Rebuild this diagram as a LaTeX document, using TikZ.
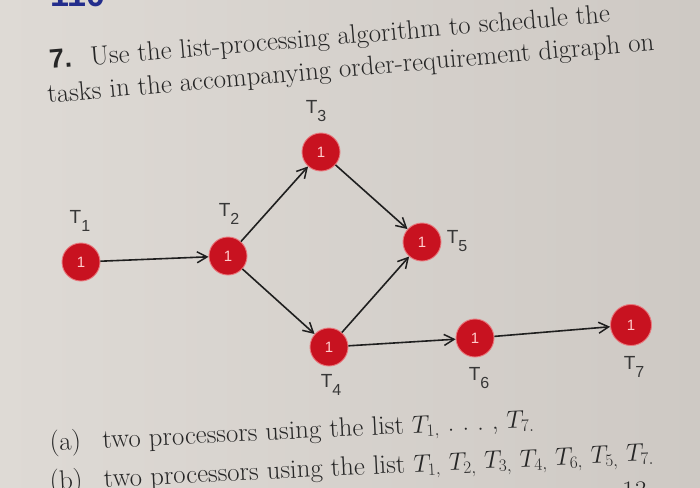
\documentclass[tikz,border=0pt]{standalone}
\usepackage{fontspec}
\setsansfont{Liberation Sans}
\usetikzlibrary{arrows.meta}
\definecolor{paperL}{RGB}{222,218,213}
\definecolor{paperR}{RGB}{206,201,196}
\definecolor{nodered}{RGB}{200,18,32}
\definecolor{noderim}{RGB}{232,120,125}
\definecolor{inkgray}{RGB}{55,55,55}
\definecolor{pageblue}{RGB}{35,45,140}
\newcommand\tlab[1]{T\raisebox{-0.38em}{\fontsize{16}{16}\selectfont #1}}
\newcommand\Tc[1]{$T_{#1,}$}
\begin{document}
\begin{tikzpicture}[x=1pt,y=-1pt,
  task/.style={circle, fill=nodered, draw=noderim, line width=0.9pt, minimum size=38pt, inner sep=0pt,
    text=white!80!red, font=\sffamily\fontsize{15}{15}\selectfont},
  conn/.style={-{Straight Barb[length=10pt,width=11pt,line width=1.5pt]}, line width=1.6pt, draw=black!88},
  lab/.style={font=\sffamily\fontsize{19}{19}\selectfont, text=inkgray},
  prose/.style={anchor=base west, font=\fontsize{26.8}{27}\selectfont, text=black!85, inner sep=0pt}]
\useasboundingbox (0,0) rectangle (700,487);
\clip (0,0) rectangle (700,487);
\shade[left color=paperL, right color=paperR] (0,0) rectangle (700,487);
% page number (cut off at top)
\node[anchor=base west, inner sep=0pt, font=\sffamily\bfseries\fontsize{34}{34}\selectfont, text=pageblue] (pg) at (50,7) {110};
% heading text
\node[prose, rotate=4.8] (l1) at (50,69) {{\sffamily\bfseries 7.}\hspace{0.7em}Use the list-processing algorithm to schedule the};
\node[prose, rotate=5.0] (l2) at (48,103) {tasks in the accompanying order-requirement digraph on};
% tasks
\node[task] (t1) at (81,262) {1};
\node[task] (t2) at (228,256) {1};
\node[task] (t3) at (321,152) {1};
\node[task] (t5) at (422,242) {1};
\node[task] (t4) at (329,347) {1};
\node[task] (t6) at (475,338) {1};
\node[task, minimum size=41pt] (t7) at (631,325) {1};
% labels
\node[lab] (lt1) at (80,221) {\tlab{1}};
\node[lab] (lt2) at (229,214) {\tlab{2}};
\node[lab] (lt3) at (316,111) {\tlab{3}};
\node[lab] (lt5) at (457,241) {\tlab{5}};
\node[lab] (lt4) at (331,385) {\tlab{4}};
\node[lab] (lt6) at (479,378) {\tlab{6}};
\node[lab] (lt7) at (634,367) {\tlab{7}};
% connectors
\draw[conn] (t1) -- (t2);
\draw[conn] (t2) -- (t3);
\draw[conn] (t2) -- (t4);
\draw[conn] (t3) -- (t5);
\draw[conn] (t4) -- (t5);
\draw[conn] (t4) -- (t6);
\draw[conn] (t6) -- (t7);
% exercise parts
\node[prose, rotate=2.8] (pa) at (50,451) {(a)\hspace{0.8em}two processors using the list \Tc{1}\ .\ .\ .\ , $T_{7.}$};
\node[prose, rotate=2.8] (pb) at (50,490) {(b)\hspace{0.8em}two processors using the list \Tc{1} \Tc{2} \Tc{3} \Tc{4} \Tc{6} \Tc{5} $T_{7.}$};
\node[prose] (nx) at (622,499) {13};
\end{tikzpicture}
\end{document}
